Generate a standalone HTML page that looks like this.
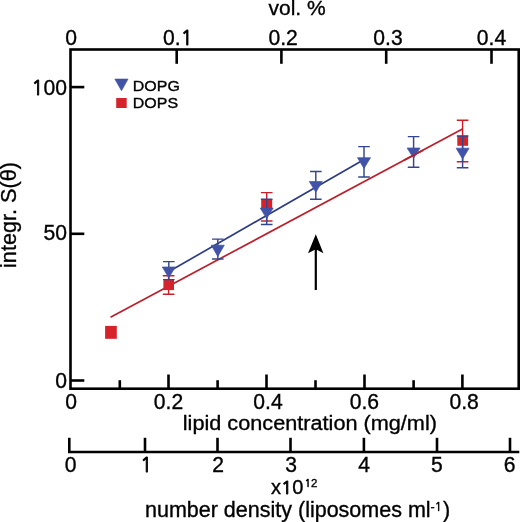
<!DOCTYPE html>
<html><head><meta charset="utf-8">
<style>
html,body{margin:0;padding:0;background:#fff;}
body{width:520px;height:522px;overflow:hidden;}
svg{display:block;}
text{font-family:"Liberation Sans",Arial,Helvetica,sans-serif;fill:#000;stroke:#000;stroke-width:0.35px;}
.one{font-family:"NanumGothic","Liberation Sans",sans-serif;stroke-width:0.9px;font-size:0.93em;}
</style></head>
<body>
<svg width="520" height="522" viewBox="0 0 520 522">
<rect x="70.5" y="49.5" width="448.2" height="339.2" fill="none" stroke="#000" stroke-width="2.6"/>
<g stroke="#000" stroke-width="2.6">
<line x1="168.5" y1="388" x2="168.5" y2="374.5"/>
<line x1="266.5" y1="388" x2="266.5" y2="374.5"/>
<line x1="364.5" y1="388" x2="364.5" y2="374.5"/>
<line x1="462.4" y1="388" x2="462.4" y2="374.5"/>
<line x1="119.8" y1="388" x2="119.8" y2="380.2"/>
<line x1="217.6" y1="388" x2="217.6" y2="380.2"/>
<line x1="315.5" y1="388" x2="315.5" y2="380.2"/>
<line x1="413.6" y1="388" x2="413.6" y2="380.2"/>
<line x1="176.7" y1="50" x2="176.7" y2="63.8"/>
<line x1="281.4" y1="50" x2="281.4" y2="63.8"/>
<line x1="386.2" y1="50" x2="386.2" y2="63.8"/>
<line x1="491.5" y1="50" x2="491.5" y2="63.8"/>
<line x1="71" y1="380.5" x2="84.3" y2="380.5"/>
<line x1="71" y1="233.8" x2="84.3" y2="233.8"/>
<line x1="71" y1="87.1" x2="84.3" y2="87.1"/>
<line x1="68" y1="452" x2="519.3" y2="452"/>
<line x1="69.3" y1="452" x2="69.3" y2="437.8"/>
<line x1="145" y1="452" x2="145" y2="437.8"/>
<line x1="217.5" y1="452" x2="217.5" y2="437.8"/>
<line x1="290.5" y1="452" x2="290.5" y2="437.8"/>
<line x1="363.9" y1="452" x2="363.9" y2="437.8"/>
<line x1="437" y1="452" x2="437" y2="437.8"/>
<line x1="510" y1="452" x2="510" y2="437.8"/>
</g>
<text transform="translate(71 45.3) scale(0.96 1)" font-size="22" text-anchor="middle">0</text>
<text transform="translate(177.8 45.3) scale(0.96 1)" font-size="22" text-anchor="middle">0.<tspan class="one">1</tspan></text>
<text transform="translate(283.1 45.3) scale(0.96 1)" font-size="22" text-anchor="middle">0.2</text>
<text transform="translate(388 45.3) scale(0.96 1)" font-size="22" text-anchor="middle">0.3</text>
<text transform="translate(491.5 45.3) scale(0.96 1)" font-size="22" text-anchor="middle">0.4</text>
<text x="268.5" y="15.4" font-size="21">vol. %</text>
<text transform="translate(67 94.6) scale(0.96 1)" font-size="22" text-anchor="end"><tspan class="one">1</tspan>00</text>
<text transform="translate(67 239.8) scale(0.96 1)" font-size="22" text-anchor="end">50</text>
<text transform="translate(67 387.8) scale(0.96 1)" font-size="22" text-anchor="end">0</text>
<text transform="translate(15.8 268) rotate(-90)" font-size="21.7">integr. S(θ)</text>
<text transform="translate(71 409.2) scale(0.96 1)" font-size="22" text-anchor="middle">0</text>
<text transform="translate(168.5 409.2) scale(0.96 1)" font-size="22" text-anchor="middle">0.2</text>
<text transform="translate(268 409.2) scale(0.96 1)" font-size="22" text-anchor="middle">0.4</text>
<text transform="translate(364.3 409.2) scale(0.96 1)" font-size="22" text-anchor="middle">0.6</text>
<text transform="translate(464.1 409.2) scale(0.96 1)" font-size="22" text-anchor="middle">0.8</text>
<text transform="translate(182.8 430.1) scale(1.033 1)" font-size="21">lipid concentration (mg/ml)</text>
<text transform="translate(70.7 472) scale(0.96 1)" font-size="22" text-anchor="middle">0</text>
<text transform="translate(146.2 472) scale(0.96 1)" font-size="22" text-anchor="middle"><tspan class="one">1</tspan></text>
<text transform="translate(218.2 472) scale(0.96 1)" font-size="22" text-anchor="middle">2</text>
<text transform="translate(291 472) scale(0.96 1)" font-size="22" text-anchor="middle">3</text>
<text transform="translate(364.2 472) scale(0.96 1)" font-size="22" text-anchor="middle">4</text>
<text transform="translate(436.9 472) scale(0.96 1)" font-size="22" text-anchor="middle">5</text>
<text transform="translate(509.5 472) scale(0.96 1)" font-size="22" text-anchor="middle">6</text>
<text x="271" y="494" font-size="20">x<tspan class="one">1</tspan>0<tspan font-size="11.5" dx="1" dy="-7.5"><tspan class="one" style="stroke-width:0.6px">1</tspan>2</tspan></text>
<text x="145" y="517.1" font-size="21.5">number density (liposomes ml<tspan font-size="12.5" dy="-6.5">-<tspan class="one" style="stroke-width:0.6px">1</tspan></tspan><tspan dx="1.2" dy="6.5">)</tspan></text>
<polygon points="114.9,79.1 128,79.1 121.5,90.7" fill="#4053a6" stroke="#4053a6" stroke-width="0.7" stroke-linejoin="round"/>
<rect x="116.2" y="98" width="10.5" height="10" fill="#d6232b"/>
<text transform="translate(132.8 90.8) scale(1.045 1)" font-size="15.3">DOPG</text>
<text transform="translate(132.8 108.2) scale(1.045 1)" font-size="15.3">DOPS</text>
<line x1="169" y1="271.5" x2="364.5" y2="159.3" stroke="#2c3b84" stroke-width="1.65"/>
<g stroke="#c8202a" stroke-width="1.45" fill="none">
<path d="M168.6 275.7V294.2M162.79999999999998 275.7H174.4M162.79999999999998 294.2H174.4"/>
<path d="M266.7 192.6V221M260.9 192.6H272.5M260.9 221H272.5"/>
<path d="M462.6 120.3V161.8M456.8 120.3H468.40000000000003M456.8 161.8H468.40000000000003"/>
</g>
<line x1="110.5" y1="317.2" x2="462.9" y2="128.8" stroke="#bb1f2b" stroke-width="1.7"/>
<g fill="#d6232b">
<rect x="105.1" y="325.9" width="11.7" height="12.9"/>
<rect x="163.4" y="279.5" width="10.6" height="10.6"/>
<rect x="261.2" y="199.2" width="11" height="10.6"/>
<rect x="457.3" y="135.8" width="10.8" height="10"/>
</g>
<g stroke="#34458f" stroke-width="1.45" fill="none">
<path d="M168.8 261.6V279.6M163.0 261.6H174.60000000000002M163.0 279.6H174.60000000000002"/>
<path d="M217.8 239.1V259M212.0 239.1H223.60000000000002M212.0 259H223.60000000000002"/>
<path d="M266.7 199.3V224.5M260.9 199.3H272.5M260.9 224.5H272.5"/>
<path d="M315.8 171.5V199.2M310.0 171.5H321.6M310.0 199.2H321.6"/>
<path d="M364 146.6V177M358.2 146.6H369.8M358.2 177H369.8"/>
<path d="M413.6 136.6V167.3M407.8 136.6H419.40000000000003M407.8 167.3H419.40000000000003"/>
<path d="M462.6 135.9V167.7M456.8 135.9H468.40000000000003M456.8 167.7H468.40000000000003"/>
</g>
<g fill="#4053a6" stroke="#4053a6" stroke-width="0.7" stroke-linejoin="round">
<polygon points="162.3,267 175.3,267 168.8,277.8"/>
<polygon points="211.3,245.2 224.3,245.2 217.8,256.5"/>
<polygon points="260.2,208.1 273.2,208.1 266.7,218.6"/>
<polygon points="309.3,181.5 322.3,181.5 315.8,192.3"/>
<polygon points="357.5,157.7 370.5,157.7 364,168.5"/>
<polygon points="407.1,148 420.1,148 413.6,158.3"/>
<polygon points="456.1,148.2 469.1,148.2 462.6,159"/>
</g>
<line x1="404" y1="160.29" x2="423" y2="150.13" stroke="#bb1f2b" stroke-width="1.7"/>
<line x1="315.8" y1="246" x2="315.8" y2="290" stroke="#000" stroke-width="2.2"/>
<polygon points="315.8,234.3 323.4,253.2 315.8,249.2 308,253.2" fill="#000"/>
</svg>
</body></html>
